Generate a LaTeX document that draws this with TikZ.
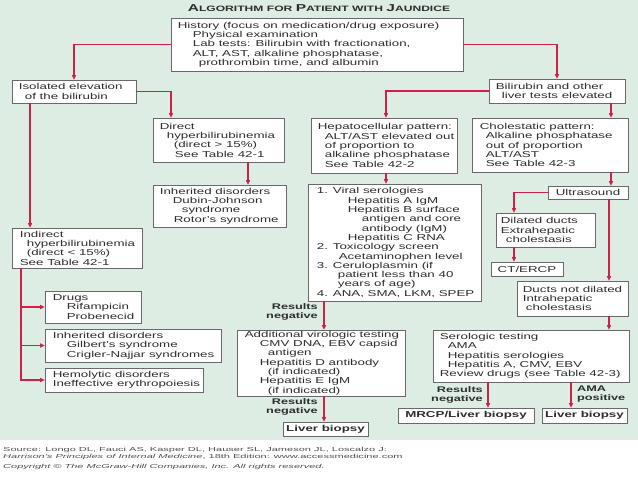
\documentclass[tikz,border=0pt]{standalone}
\usepackage{fontspec}
\setmainfont[FakeStretch=1.55]{Liberation Sans}
\newfontfamily\footfont[FakeStretch=1.9]{Liberation Sans}
\usetikzlibrary{arrows.meta,shadows}
\definecolor{bggreen}{RGB}{221,237,227}
\definecolor{arrred}{RGB}{206,32,72}
\definecolor{boxline}{RGB}{105,105,105}
\definecolor{txtgray}{RGB}{45,45,45}
\definecolor{footgray}{RGB}{80,80,80}
\tikzset{
  box/.style={draw=boxline, fill=white, line width=0.7pt, inner sep=0pt,
    general shadow={fill=black!35, shadow xshift=0.8pt, shadow yshift=-0.8pt}},
  txt/.style={font=\fontsize{8.6}{9.3}\selectfont, text=txtgray, align=left, inner sep=0pt},
  arr/.style={draw=arrred, line width=1.1pt, -{Triangle[length=4.5pt,width=4pt]}},
  lbl/.style={font=\bfseries\fontsize{8.2}{9}\selectfont, text=txtgray, inner sep=0pt},
  foot/.style={font=\footfont\fontsize{5.8}{6}\selectfont, text=footgray, inner sep=0pt, anchor=west}
}
\newcommand\bx[7][7]{%
  \pgfmathsetmacro\bw{#5-#3}\pgfmathsetmacro\bh{#6-#4}%
  \node[box, minimum width=\bw pt, minimum height=\bh pt] (#2) at ({(#3+#5)/2},{(#4+#6)/2}) {};
  \node[txt, anchor=west] (#2t) at ([xshift=#1pt]#2.west) {#7};}
\newcommand\cbx[6]{%
  \pgfmathsetmacro\bw{#4-#2}\pgfmathsetmacro\bh{#5-#3}%
  \node[box, txt, align=center, minimum width=\bw pt, minimum height=\bh pt] (#1) at ({(#2+#4)/2},{(#3+#5)/2}) {#6};}
\newcommand\bigc[1]{{\fontsize{10}{10}\selectfont #1}}
\newcommand\smc[1]{{\fontsize{7.8}{10}\selectfont #1}}
\begin{document}
\begin{tikzpicture}[x=1pt,y=-1pt]
\fill[white] (0,0) rectangle (638,479);
\fill[bggreen] (0,0) rectangle (638,440);
\useasboundingbox (0,0) rectangle (638,479);

\node[font=\bfseries\fontsize{7.8}{10}\selectfont, text=txtgray, inner sep=0pt] (title) at (319,8.5)
  {\bigc{A}\smc{LGORITHM} \smc{FOR} \bigc{P}\smc{ATIENT} \smc{WITH} \bigc{J}\smc{AUNDICE}};

\bx{hist}{171}{18}{463}{71}{History (focus on medication/drug exposure)\\\hspace*{15pt}Physical examination\\\hspace*{15pt}Lab tests: Bilirubin with fractionation,\\\hspace*{15pt}ALT, AST, alkaline phosphatase,\\\hspace*{21pt}prothrombin time, and albumin}
\bx{isol}{12}{80}{136}{103}{Isolated elevation\\\hspace*{6pt}of the bilirubin}
\bx{bili}{489}{79}{625}{103}{Bilirubin and other\\\hspace*{6pt}liver tests elevated}
\bx{direct}{153}{118}{284}{162}{Direct\\\hspace*{7pt}hyperbilirubinemia\\\hspace*{14pt}(direct > 15\%)\\\hspace*{15pt}See Table 42-1}
\bx{dubin}{153}{185}{286}{227}{Inherited disorders\\\hspace*{13pt}Dubin-Johnson\\\hspace*{22pt}syndrome\\\hspace*{14pt}Rotor's syndrome}
\bx[8]{indir}{12}{228}{142}{268}{Indirect\\\hspace*{7pt}hyperbilirubinemia\\\hspace*{7pt}(direct < 15\%)\\See Table 42-1}
\bx[8]{drugs}{45}{291}{141}{323}{Drugs\\\hspace*{14pt}Rifampicin\\\hspace*{14pt}Probenecid}
\bx[8]{inh2}{45}{329}{221}{362}{Inherited disorders\\\hspace*{14pt}Gilbert's syndrome\\\hspace*{14pt}Crigler-Najjar syndromes}
\bx[8]{hemo}{45}{368}{203}{392}{Hemolytic disorders\\Ineffective erythropoiesis}
\bx{hepato}{311}{118}{457}{173}{Hepatocellular pattern:\\\hspace*{7pt}ALT/AST elevated out\\\hspace*{7pt}of proportion to\\\hspace*{7pt}alkaline phosphatase\\\hspace*{7pt}See Table 42-2}
\bx[8]{chole}{472}{118}{628}{172}{Cholestatic pattern:\\\hspace*{6pt}Alkaline phosphatase\\\hspace*{6pt}out of proportion\\\hspace*{6pt}ALT/AST\\\hspace*{6pt}See Table 42-3}
\bx[9]{viral}{308}{184}{481}{301}{1. Viral serologies\\\hspace*{31pt}Hepatitis A IgM\\\hspace*{31pt}Hepatitis B surface\\\hspace*{45pt}antigen and core\\\hspace*{45pt}antibody (IgM)\\\hspace*{31pt}Hepatitis C RNA\\2. Toxicology screen\\\hspace*{22pt}Acetaminophen level\\3. Ceruloplasmin (if\\\hspace*{21pt}patient less than 40\\\hspace*{21pt}years of age)\\4. ANA, SMA, LKM, SPEP}
\bx[8]{addv}{237}{330}{405}{396}{Additional virologic testing\\\hspace*{15pt}CMV DNA, EBV capsid\\\hspace*{23pt}antigen\\\hspace*{15pt}Hepatitis D antibody\\\hspace*{23pt}(if indicated)\\\hspace*{15pt}Hepatitis E IgM\\\hspace*{23pt}(if indicated)}
\bx{sero}{433}{330}{629}{382}{Serologic testing\\\hspace*{8pt}AMA\\\hspace*{8pt}Hepatitis serologies\\\hspace*{8pt}Hepatitis A, CMV, EBV\\Review drugs (see Table 42-3)}
\bx[5]{dil}{496}{213}{595}{247}{Dilated ducts\\Extrahepatic\\\hspace*{5pt}cholestasis}
\bx[6]{ducts}{517}{281}{628}{316}{Ducts not dilated\\Intrahepatic\\\hspace*{3pt}cholestasis}
\cbx{ultra}{548}{186}{628}{199}{Ultrasound}
\cbx{ct}{491}{262}{563}{276}{CT/ERCP}
\cbx{lb1}{283}{422}{368}{436}{\bfseries Liver biopsy}
\cbx{mrcp}{398}{408}{534}{423}{\bfseries MRCP/Liver biopsy}
\cbx{lb2}{542}{408}{627}{423}{\bfseries Liver biopsy}

% connectors
\draw[arr] (hist.west) -| (isol.north);
\draw[arr] (hist.east) -| (bili.north);
\coordinate (a3) at ([xshift=-47.5pt]direct.north);
\draw[arr] (isol.east) -| (a3);
\coordinate (a4) at ([xshift=-44pt]isol.south);
\draw[arr] (a4) -- (a4 |- indir.north);
\coordinate (a5) at ([xshift=29.5pt]direct.south);
\draw[arr] (a5) -- (a5 |- dubin.north);
\coordinate (a6) at ([xshift=2pt]hepato.north);
\draw[arr] (bili.west) -| (a6);
\coordinate (a7) at ([xshift=54pt]bili.south);
\draw[arr] (a7) -- (a7 |- chole.north);
\coordinate (a8) at ([xshift=2pt]hepato.south);
\draw[arr] (a8) -- (a8 |- viral.north);
\coordinate (a9) at ([xshift=61pt]chole.south);
\draw[arr] (a9) -- (a9 |- ultra.north);
\coordinate (a10) at ([xshift=-31.5pt]dil.north);
\draw[arr] (ultra.west) -| (a10);
\coordinate (a11) at ([xshift=-31.5pt]dil.south);
\draw[arr] (a11) -- (a11 |- ct.north);
\coordinate (a12) at ([xshift=21pt]ultra.south);
\draw[arr] (a12) -- (a12 |- ducts.north);
\coordinate (a13) at ([xshift=36.5pt]ducts.south);
\draw[arr] (a13) -- (a13 |- sero.north);
\coordinate (a14) at ([xshift=-70.5pt]viral.south);
\draw[arr] (a14) -- (a14 |- addv.north);
\coordinate (a15) at ([xshift=3pt]addv.south);
\draw[arr] (a15) -- (a15 |- lb1.north);
\coordinate (a16) at ([xshift=-43pt]sero.south);
\draw[arr] (a16) -- (a16 |- mrcp.north);
\coordinate (a17) at ([xshift=40pt]sero.south);
\draw[arr] (a17) -- (a17 |- lb2.north);
\coordinate (trunk) at ([xshift=-56pt]indir.south);
\draw[arr] (trunk) |- (hemo.west);
\draw[arr] (trunk |- drugs.west) -- (drugs.west);
\draw[arr] (trunk |- inh2.west) -- (inh2.west);

% labels
\node[lbl, anchor=east, align=right] (rn1) at (318,311.5) {Results\\negative};
\node[lbl, anchor=east, align=right] (rn2) at (318,406.5) {Results\\negative};
\node[lbl, anchor=east, align=right] (rn3) at (483,394.5) {Results\\negative};
\node[lbl, anchor=west, align=left] (amap) at (577,394.5) {AMA\\positive};

% footer
\node[foot] (src1) at (3,450) {Source: Longo DL, Fauci AS, Kasper DL, Hauser SL, Jameson JL, Loscalzo J:};
\node[foot] (src2) at (3,457) {\textit{Harrison's Principles of Internal Medicine}, 18th Edition: www.accessmedicine.com};
\node[foot] (copy) at (3,467) {\textit{Copyright \textcopyright{} The McGraw-Hill Companies, Inc. All rights reserved.}};
\end{tikzpicture}
\end{document}
